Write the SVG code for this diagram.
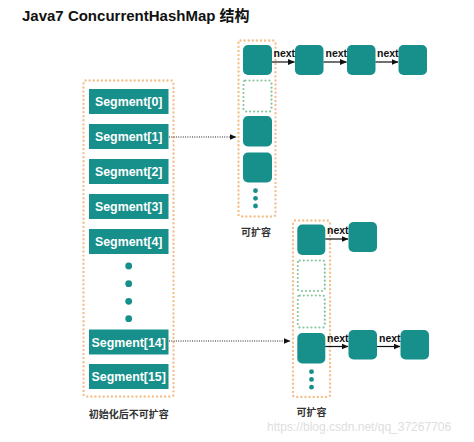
<svg xmlns="http://www.w3.org/2000/svg" width="474" height="442" viewBox="0 0 474 442">
<style>
.t{font-family:"Liberation Sans","Noto Sans CJK SC",sans-serif}
.title{font-size:15px;font-weight:bold;fill:#111}
.seg{fill:#178f8b}
.segt{font-size:12.4px;font-weight:bold;fill:#fff;text-anchor:middle}
.sq{fill:#178f8b}
.od{fill:none;stroke:#f3c08e;stroke-width:2.4;stroke-dasharray:0 4.1;stroke-linecap:round}
.gd{fill:none;stroke:#84c69b;stroke-width:2.2;stroke-dasharray:0 4;stroke-linecap:round}
.dot{fill:#178f8b}
.nx{font-size:10.5px;font-weight:bold;fill:#111}
.cap{font-size:10px;font-weight:bold;fill:#333;text-anchor:middle}
.arr{stroke:#111;stroke-width:1.2;fill:none}
.dl{stroke:#222;stroke-width:1;stroke-dasharray:1 1.3;fill:none}
</style>
<defs>
<marker id="ah" markerWidth="7" markerHeight="6" refX="6.5" refY="3" orient="auto" markerUnits="userSpaceOnUse">
<path d="M0,0 L7,3 L0,6 Z" fill="#111"/>
</marker>
</defs>
<rect width="474" height="442" fill="#fff"/>
<text class="t title" x="22" y="21">Java7 ConcurrentHashMap 结构</text>

<g id="segments">
<rect class="od" x="83.5" y="80.5" width="90" height="316" rx="2"/>
<g id="seg0"><rect class="seg" x="89" y="89" width="79.5" height="25"/><text class="t segt" x="128.7" y="106">Segment[0]</text></g>
<g id="seg1"><rect class="seg" x="89" y="124" width="79.5" height="25"/><text class="t segt" x="128.7" y="141">Segment[1]</text></g>
<g id="seg2"><rect class="seg" x="89" y="159" width="79.5" height="25"/><text class="t segt" x="128.7" y="176">Segment[2]</text></g>
<g id="seg3"><rect class="seg" x="89" y="194" width="79.5" height="25"/><text class="t segt" x="128.7" y="211">Segment[3]</text></g>
<g id="seg4"><rect class="seg" x="89" y="229" width="79.5" height="25"/><text class="t segt" x="128.7" y="246">Segment[4]</text></g>
<g id="segdots"><circle class="dot" cx="128.7" cy="266" r="3.4"/><circle class="dot" cx="128.7" cy="283.7" r="3.4"/><circle class="dot" cx="128.7" cy="301.3" r="3.4"/><circle class="dot" cx="128.7" cy="318.7" r="3.4"/></g>
<g id="seg14"><rect class="seg" x="89" y="329.5" width="79.5" height="25"/><text class="t segt" x="128.7" y="346.5">Segment[14]</text></g>
<g id="seg15"><rect class="seg" x="89" y="364" width="79.5" height="25"/><text class="t segt" x="128.7" y="381">Segment[15]</text></g>
<text class="t cap" x="128.7" y="418">初始化后不可扩容</text>
</g>

<g id="table1">
<rect class="od" x="238.5" y="40.5" width="37" height="176" rx="2"/>
<rect class="sq" x="243" y="45" width="29" height="30" rx="5"/>
<rect class="gd" x="243.5" y="80.5" width="28" height="31" rx="2"/>
<rect class="sq" x="243" y="116" width="29" height="30.5" rx="5"/>
<rect class="sq" x="243" y="152.5" width="29" height="30" rx="5"/>
<circle class="dot" cx="255.5" cy="190.7" r="2.4"/><circle class="dot" cx="255.5" cy="198.3" r="2.4"/><circle class="dot" cx="255.5" cy="206" r="2.4"/>
<text class="t cap" x="256" y="236">可扩容</text>
</g>
<g id="chain1">
<rect class="sq" x="295" y="45" width="28.5" height="30" rx="5"/>
<rect class="sq" x="347" y="45" width="28.5" height="30" rx="5"/>
<rect class="sq" x="398.5" y="45" width="28.5" height="30" rx="5"/>
</g>

<g id="table2">
<rect class="od" x="293" y="220.5" width="37" height="176.5" rx="2"/>
<rect class="sq" x="297.3" y="224.5" width="28" height="30.5" rx="5"/>
<rect class="gd" x="297.8" y="260.5" width="27" height="30.5" rx="2"/>
<rect class="gd" x="297.8" y="295.5" width="27" height="32" rx="2"/>
<rect class="sq" x="297.3" y="333" width="28" height="30.5" rx="5"/>
<circle class="dot" cx="311.5" cy="371.7" r="2.4"/><circle class="dot" cx="311.5" cy="379.4" r="2.4"/><circle class="dot" cx="311.5" cy="387.2" r="2.4"/>
<text class="t cap" x="311.5" y="416">可扩容</text>
</g>
<g id="chain2">
<rect class="sq" x="348.5" y="222" width="28.5" height="30" rx="5"/>
<rect class="sq" x="348.5" y="330" width="28.5" height="29.5" rx="5"/>
<rect class="sq" x="400.5" y="330" width="28.5" height="29.5" rx="5"/>
</g>

<g id="connectors">
<line class="dl" x1="169" y1="137" x2="236" y2="137" marker-end="url(#ah)"/>
<line class="dl" x1="169" y1="341" x2="290" y2="341" marker-end="url(#ah)"/>
<line class="arr" x1="272" y1="62" x2="294.5" y2="62" marker-end="url(#ah)"/>
<line class="arr" x1="323.5" y1="62" x2="346.5" y2="62" marker-end="url(#ah)"/>
<line class="arr" x1="375.5" y1="62" x2="398" y2="62" marker-end="url(#ah)"/>
<line class="arr" x1="325.3" y1="239" x2="348" y2="239" marker-end="url(#ah)"/>
<line class="arr" x1="325.3" y1="346.5" x2="348" y2="346.5" marker-end="url(#ah)"/>
<line class="arr" x1="377" y1="346.5" x2="400" y2="346.5" marker-end="url(#ah)"/>
<text class="t nx" x="273.5" y="56.5">next</text>
<text class="t nx" x="325.5" y="56.5">next</text>
<text class="t nx" x="377" y="56.5">next</text>
<text class="t nx" x="327" y="234">next</text>
<text class="t nx" x="327" y="341.5">next</text>
<text class="t nx" x="379" y="341.5">next</text>
</g>

<text class="t" x="267" y="431" font-size="12" fill="#dedede">https://blog.csdn.net/qq_37267706</text>
</svg>
